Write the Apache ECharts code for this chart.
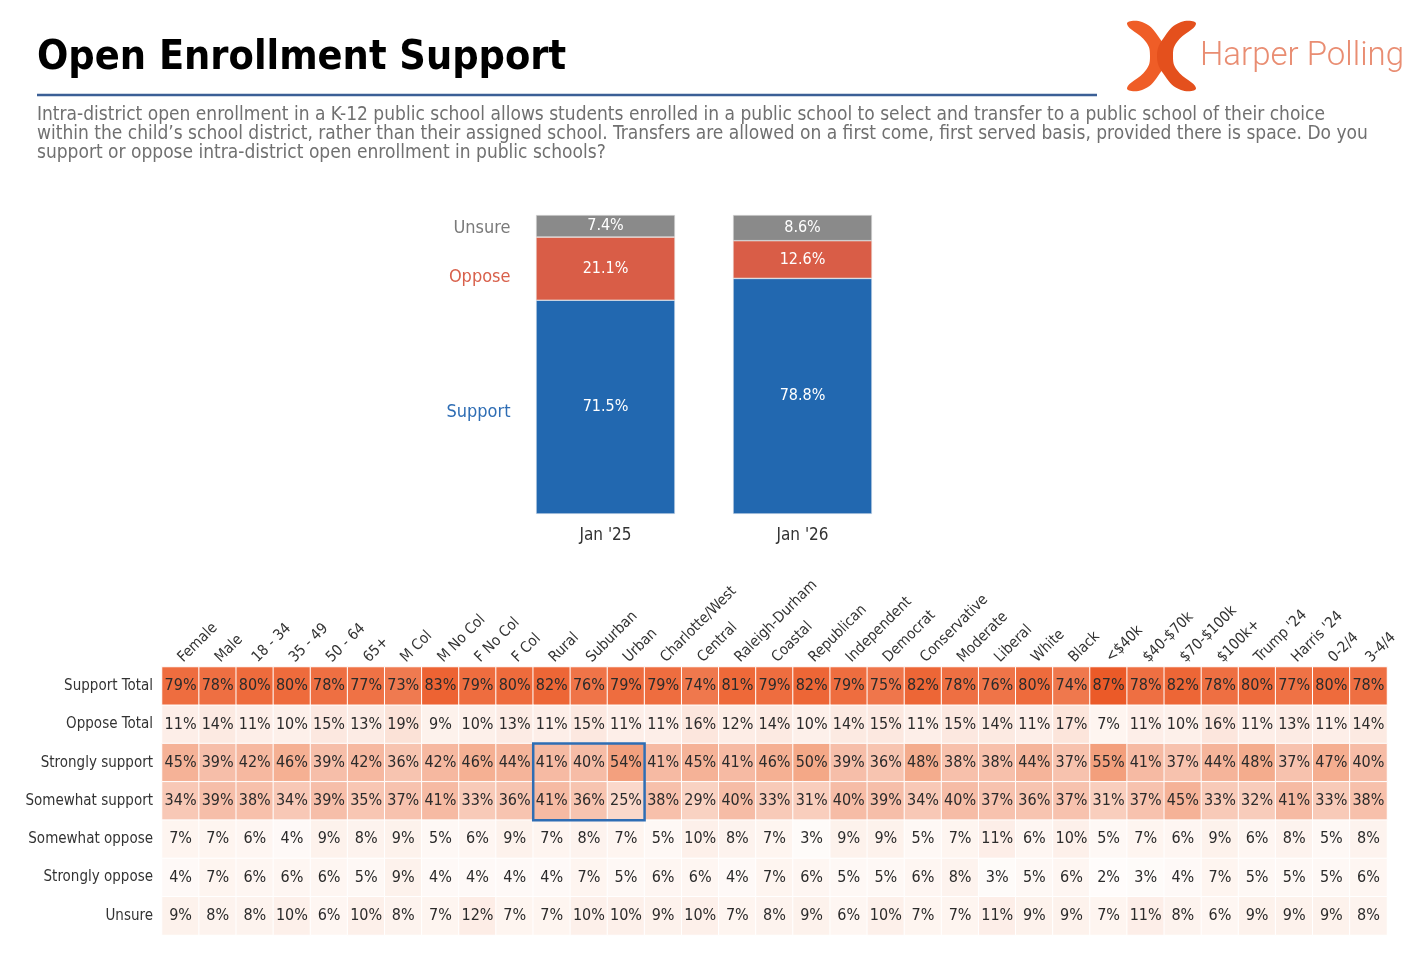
<!DOCTYPE html>
<html>
<head>
<meta charset="utf-8">
<script src="https://cdn.jsdelivr.net/npm/echarts@6/dist/echarts.min.js"></script>
<style>
  html, body { margin: 0; padding: 0; background: #fff; }
  #chart { width: 1425px; height: 971px; }
</style>
</head>
<body>
<div id="chart"></div>
<script>
const FONT = '"DejaVu Sans Condensed", "Liberation Sans Narrow", "DejaVu Sans", sans-serif'

// top stacked bars
const waves = ["Jan '25", "Jan '26"]
const supportVals = [71.5, 78.8]
const opposeVals = [21.1, 12.6]
const unsureVals = [7.4, 8.6]

// crosstab
const groups = ['Female', 'Male', '18 - 34', '35 - 49', '50 - 64', '65+', 'M Col', 'M No Col', 'F No Col', 'F Col',
  'Rural', 'Suburban', 'Urban', 'Charlotte/West', 'Central', 'Raleigh-Durham', 'Coastal', 'Republican', 'Independent',
  'Democrat', 'Conservative', 'Moderate', 'Liberal', 'White', 'Black', '<$40k', '$40-$70k', '$70-$100k', '$100k+',
  "Trump '24", "Harris '24", '0-2/4', '3-4/4']
const rowNames = ['Support Total', 'Oppose Total', 'Strongly support', 'Somewhat support', 'Somewhat oppose', 'Strongly oppose', 'Unsure']
const supportTotal = [79, 78, 80, 80, 78, 77, 73, 83, 79, 80, 82, 76, 79, 79, 74, 81, 79, 82, 79, 75, 82, 78, 76, 80, 74, 87, 78, 82, 78, 80, 77, 80, 78]
const opposeTotal = [11, 14, 11, 10, 15, 13, 19, 9, 10, 13, 11, 15, 11, 11, 16, 12, 14, 10, 14, 15, 11, 15, 14, 11, 17, 7, 11, 10, 16, 11, 13, 11, 14]
const stronglySupport = [45, 39, 42, 46, 39, 42, 36, 42, 46, 44, 41, 40, 54, 41, 45, 41, 46, 50, 39, 36, 48, 38, 38, 44, 37, 55, 41, 37, 44, 48, 37, 47, 40]
const somewhatSupport = [34, 39, 38, 34, 39, 35, 37, 41, 33, 36, 41, 36, 25, 38, 29, 40, 33, 31, 40, 39, 34, 40, 37, 36, 37, 31, 37, 45, 33, 32, 41, 33, 38]
const somewhatOppose = [7, 7, 6, 4, 9, 8, 9, 5, 6, 9, 7, 8, 7, 5, 10, 8, 7, 3, 9, 9, 5, 7, 11, 6, 10, 5, 7, 6, 9, 6, 8, 5, 8]
const stronglyOppose = [4, 7, 6, 6, 6, 5, 9, 4, 4, 4, 4, 7, 5, 6, 6, 4, 7, 6, 5, 5, 6, 8, 3, 5, 6, 2, 3, 4, 7, 5, 5, 5, 6]
const unsureRow = [9, 8, 8, 10, 6, 10, 8, 7, 12, 7, 7, 10, 10, 9, 10, 7, 8, 9, 6, 10, 7, 7, 11, 9, 9, 7, 11, 8, 6, 9, 9, 9, 8]
const rowValues = [supportTotal, opposeTotal, stronglySupport, somewhatSupport, somewhatOppose, stronglyOppose, unsureRow]

// boxed cells
const boxCols = ['Rural', 'Urban']
const boxRows = ['Strongly support', 'Somewhat support']

const heatData = []
rowValues.forEach((vals, r) => vals.forEach((v, c) => heatData.push([c, r, v])))

const chart = echarts.init(document.getElementById('chart'))

const headerGraphics = [
  { type: 'line', shape: { x1: 37, y1: 95, x2: 1097, y2: 95 }, style: { stroke: '#3b5f96', lineWidth: 2.5 } },
  // logo: two bowed strokes
  { type: 'polygon', shape: { smooth: 0.45, points: [[1127, 24], [1142, 22], [1158, 36], [1166, 56], [1158, 76], [1142, 90], [1127, 88], [1146, 70], [1150, 56], [1146, 42]] },
    style: { fill: '#ef5d27' } },
  { type: 'polygon', shape: { smooth: 0.45, points: [[1196, 24], [1181, 22], [1165, 36], [1157, 56], [1165, 76], [1181, 90], [1196, 88], [1177, 70], [1173, 56], [1177, 42]] },
    style: { fill: '#e4501d' } },
  { type: 'text', left: 1200, top: 40, style: { text: 'Harper Polling', fontFamily: 'Roboto, sans-serif', fontWeight: 300, fontSize: 33, fill: '#e98d72' } }
]

const option = {
  backgroundColor: '#fff',
  textStyle: { fontFamily: FONT },
  animation: false,
  title: [{
    text: 'Open Enrollment Support',
    left: 32, top: 33,
    textStyle: { fontFamily: FONT, fontSize: 41, fontWeight: 'bold', color: '#000' }
  }, {
    text: 'Intra-district open enrollment in a K-12 public school allows students enrolled in a public school to select and transfer to a public school of their choice\n' +
      'within the child\u2019s school district, rather than their assigned school. Transfers are allowed on a first come, first served basis, provided there is space. Do you\n' +
      'support or oppose intra-district open enrollment in public schools?',
    left: 32, top: 101,
    textStyle: { fontFamily: FONT, fontSize: 19, fontWeight: 'normal', color: '#707070', lineHeight: 19 }
  }],
  graphic: headerGraphics,
  visualMap: {
    show: false, seriesIndex: 3, min: 0, max: 90, dimension: 2,
    inRange: { color: ['#ffffff', '#fdf0ea', '#fbe0d5', '#f9d0c0', '#f6bca6', '#f4a887', '#f29571', '#f08159', '#ee6b3c', '#e9521f'] }
  },
  grid: [
    { left: 507, top: 215, width: 394, height: 299 },
    { left: 162, top: 667, width: 1225, height: 268 }
  ],
  xAxis: [{
    gridIndex: 0, type: 'category', data: waves,
    axisLine: { show: false }, axisTick: { show: false },
    axisLabel: { fontSize: 17, color: '#333', margin: 13, fontFamily: FONT }
  }, {
    gridIndex: 1, type: 'category', data: groups, position: 'top',
    axisLine: { show: false }, axisTick: { show: false }, splitLine: { show: false },
    axisLabel: { interval: 0, rotate: -45, fontSize: 15, color: '#333', margin: 7, fontFamily: FONT }
  }],
  yAxis: [{
    gridIndex: 0, type: 'value', min: 0, max: 100, show: false
  }, {
    gridIndex: 1, type: 'category', data: rowNames, inverse: true,
    axisLine: { show: false }, axisTick: { show: false }, splitLine: { show: false },
    axisLabel: { fontSize: 15, color: '#333', margin: 9, fontFamily: FONT }
  }],
  series: [
    {
      name: 'Support', type: 'bar', stack: 'tot', xAxisIndex: 0, yAxisIndex: 0, barWidth: 139,
      data: supportVals, itemStyle: { color: '#2268b0', borderColor: '#dfe6ee', borderWidth: 0.6 },
      label: { show: true, position: 'inside', color: '#fff', fontSize: 16, formatter: p => p.value.toFixed(1) + '%' }
    },
    {
      name: 'Oppose', type: 'bar', stack: 'tot', xAxisIndex: 0, yAxisIndex: 0, barWidth: 139,
      data: opposeVals, itemStyle: { color: '#d95d47', borderColor: '#ead6d2', borderWidth: 0.6 },
      label: { show: true, position: 'inside', color: '#fff', fontSize: 16, formatter: p => p.value.toFixed(1) + '%' }
    },
    {
      name: 'Unsure', type: 'bar', stack: 'tot', xAxisIndex: 0, yAxisIndex: 0, barWidth: 139,
      data: unsureVals, itemStyle: { color: '#8a8a8a', borderColor: '#dddddd', borderWidth: 0.6 },
      label: { show: true, position: 'inside', color: '#fff', fontSize: 16, formatter: p => p.value.toFixed(1) + '%' }
    },
    {
      name: 'crosstab', type: 'heatmap', xAxisIndex: 1, yAxisIndex: 1, data: heatData,
      itemStyle: { borderColor: '#fff', borderWidth: 1 },
      label: { show: true, color: '#2b2b2b', fontSize: 16, fontFamily: FONT, formatter: p => p.value[2] + '%' }
    },
    {
      name: 'box', type: 'custom', xAxisIndex: 1, yAxisIndex: 1, z: 10, silent: true,
      data: [[groups.indexOf(boxCols[0]), rowNames.indexOf(boxRows[0]), groups.indexOf(boxCols[1]), rowNames.indexOf(boxRows[1])]],
      encode: { x: [0, 2], y: [1, 3] },
      renderItem(params, api) {
        const a = api.coord([api.value(0), api.value(1)])
        const b = api.coord([api.value(2), api.value(3)])
        const s = api.size([1, 1])
        return {
          type: 'rect',
          shape: { x: a[0] - s[0] / 2, y: a[1] - s[1] / 2, width: b[0] - a[0] + s[0], height: b[1] - a[1] + s[1] },
          style: { fill: 'none', stroke: '#2e6db4', lineWidth: 2.5 }
        }
      }
    }
  ]
}

chart.setOption(option)

// series names beside the first bar, centred on its segments
const firstVals = [supportVals[0], opposeVals[0], unsureVals[0]]
const sideNames = ['Support', 'Oppose', 'Unsure']
const sideColors = ['#2e6db4', '#d8604b', '#7a7a7a']
const sideShift = [5, 9, 2]
let base = 0
const sideTexts = firstVals.map((v, i) => {
  const mid = chart.convertToPixel({ gridIndex: 0 }, [0, base + v / 2])
  const left = chart.convertToPixel({ gridIndex: 0 }, [0, 0])
  base += v
  return {
    type: 'text', id: 'side' + i, x: left[0] - 69 - 26, y: mid[1] + sideShift[i],
    style: { text: sideNames[i], fill: sideColors[i], fontSize: 18, fontFamily: FONT, align: 'right', verticalAlign: 'middle' }
  }
})
chart.setOption({ graphic: headerGraphics.concat(sideTexts) })
</script>
</body>
</html>
